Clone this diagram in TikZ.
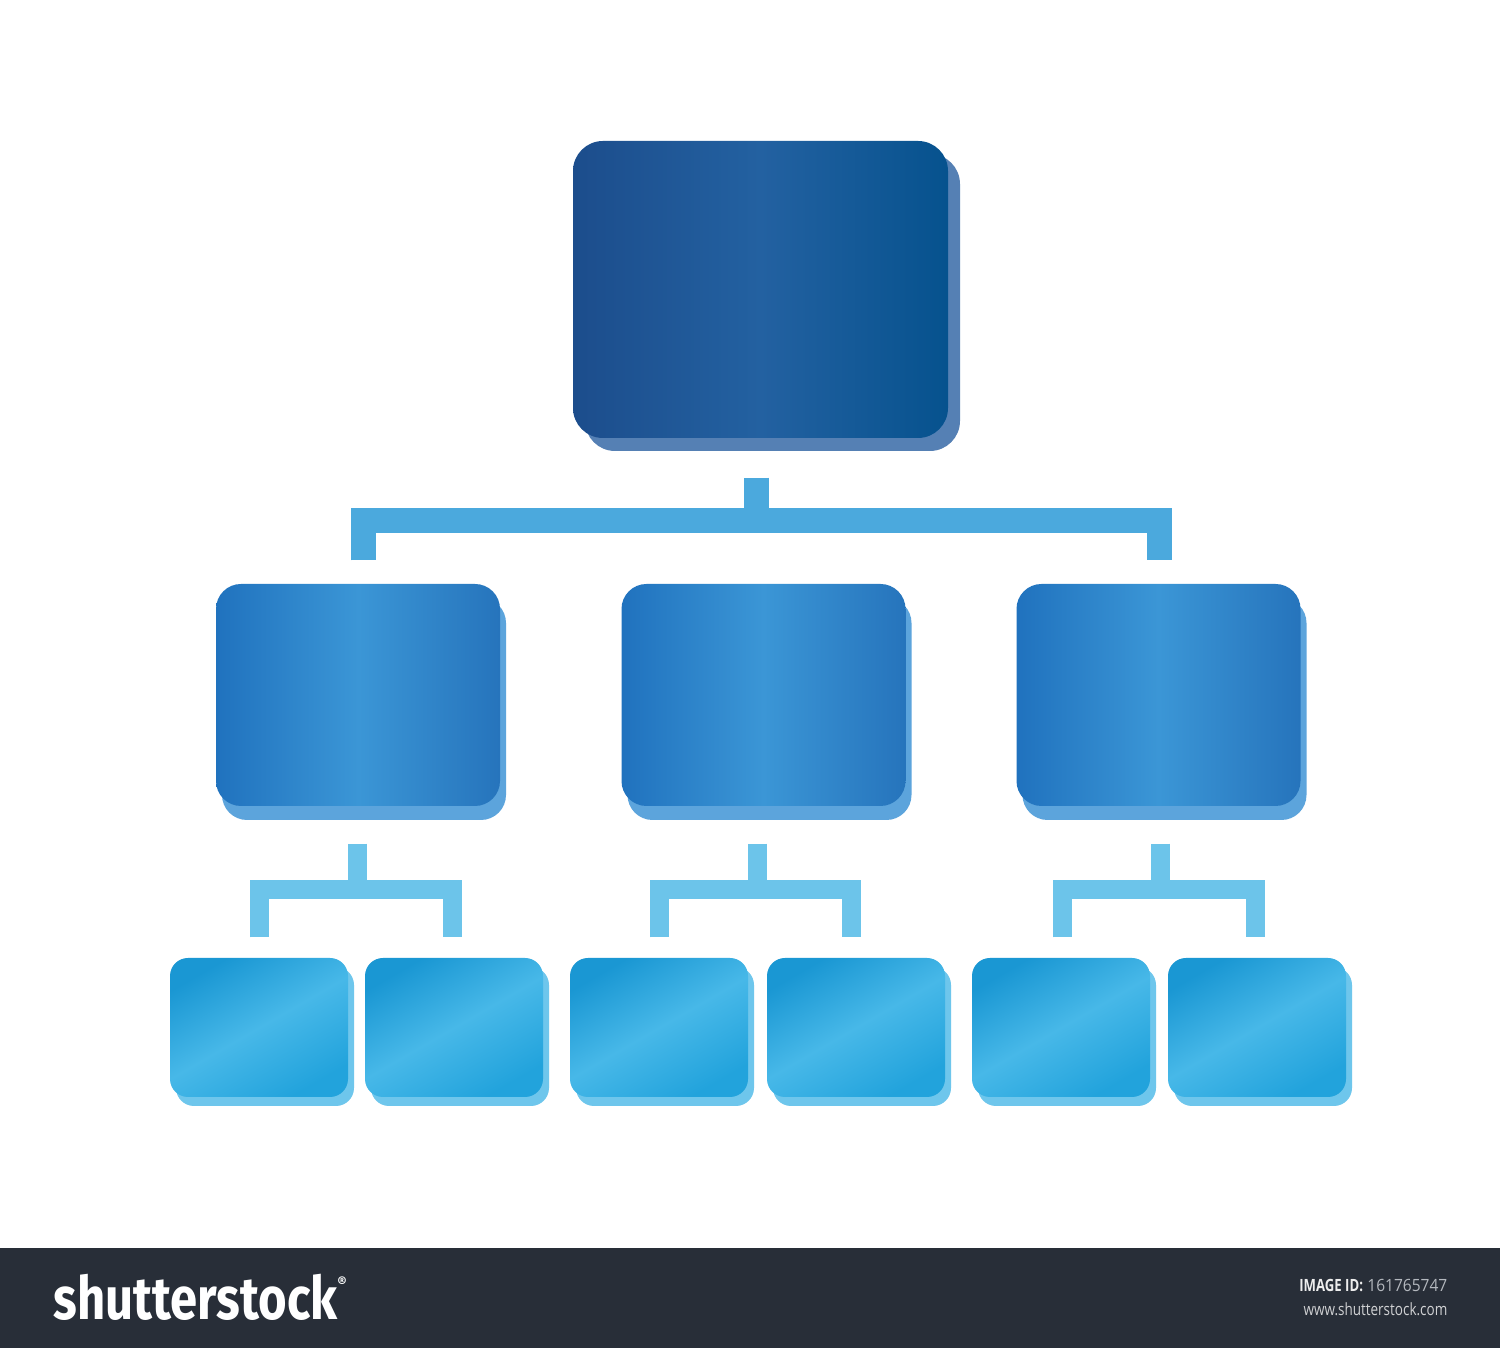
\documentclass[tikz,border=0pt]{standalone}
\usepackage{fontspec}
\usetikzlibrary{shadows}
\newfontfamily\logofont{Fira Sans}
\newfontfamily\infofont{Open Sans}

\definecolor{topL}{HTML}{1C4D8C}
\definecolor{topM}{HTML}{2361A1}
\definecolor{topR}{HTML}{06528E}
\definecolor{topS}{HTML}{5580B4}
\definecolor{midL}{HTML}{2072BE}
\definecolor{midM}{HTML}{3B96D6}
\definecolor{midR}{HTML}{2674BC}
\definecolor{midS}{HTML}{5CA4DC}
\definecolor{lowL}{HTML}{1A97D3}
\definecolor{lowM}{HTML}{47B8E8}
\definecolor{lowR}{HTML}{22A3DC}
\definecolor{lowS}{HTML}{6EC6EC}
\definecolor{connA}{HTML}{4BA9DD}
\definecolor{connB}{HTML}{6CC4EA}
\definecolor{footbg}{HTML}{282E38}

\begin{document}
\begin{tikzpicture}[
  topbox/.style={rectangle, inner sep=0pt, rounded corners=0.3cm,
    minimum width=3.75cm, minimum height=2.97cm,
    left color=topL, right color=topR, middle color=topM,
    general shadow={fill=topS, shadow xshift=0.12cm, shadow yshift=-0.13cm}},
  midbox/.style={rectangle, inner sep=0pt, rounded corners=0.25cm,
    minimum width=2.84cm, minimum height=2.22cm,
    left color=midL, right color=midR, middle color=midM,
    general shadow={fill=midS, shadow xshift=0.06cm, shadow yshift=-0.14cm}},
  lowbox/.style={rectangle, inner sep=0pt, rounded corners=0.18cm,
    minimum width=1.78cm, minimum height=1.39cm,
    left color=lowL, right color=lowR, middle color=lowM, shading angle=30,
    general shadow={fill=lowS, shadow xshift=0.06cm, shadow yshift=-0.09cm}},
  trunk/.style={draw=connA, line width=0.25cm, line join=miter},
  twig/.style={draw=connB, line width=0.19cm, line join=miter}
]
\useasboundingbox (0,0) rectangle (15,13.48);
\fill[white] (0,0) rectangle (15,13.48);

% boxes
\node [topbox] (t) at (7.605,10.585) {};
\node [midbox] (l) at (3.58,6.53) {};
\node [midbox] (c) at (7.635,6.53) {};
\node [midbox] (r) at (11.585,6.53) {};
\node [lowbox] (la) at (2.59,3.205) {};
\node [lowbox] (lb) at (4.54,3.205) {};
\node [lowbox] (ca) at (6.59,3.205) {};
\node [lowbox] (cb) at (8.56,3.205) {};
\node [lowbox] (ra) at (10.61,3.205) {};
\node [lowbox] (rb) at (12.57,3.205) {};

% connectors
\coordinate (tj) at ([xshift=-0.04cm,yshift=-0.815cm]t.south);
\draw [trunk] ([xshift=-0.04cm,yshift=-0.39cm]t.south) -- (tj);
\draw [trunk] ([xshift=0.055cm,yshift=0.23cm]l.north) |- (tj) -| ([xshift=0.01cm,yshift=0.23cm]r.north);
\coordinate (lj) at ([xshift=-0.01cm,yshift=-0.83cm]l.south);
\draw [twig] ([xshift=-0.01cm,yshift=-0.37cm]l.south) -- (lj);
\draw [twig] ([yshift=0.2cm]la.north) |- (lj) -| ([xshift=-0.015cm,yshift=0.2cm]lb.north);
\coordinate (cj) at ([xshift=-0.065cm,yshift=-0.83cm]c.south);
\draw [twig] ([xshift=-0.065cm,yshift=-0.37cm]c.south) -- (cj);
\draw [twig] ([yshift=0.2cm]ca.north) |- (cj) -| ([xshift=-0.05cm,yshift=0.2cm]cb.north);
\coordinate (rj) at ([xshift=0.015cm,yshift=-0.83cm]r.south);
\draw [twig] ([xshift=0.015cm,yshift=-0.37cm]r.south) -- (rj);
\draw [twig] ([xshift=0.015cm,yshift=0.2cm]ra.north) |- (rj) -| ([xshift=-0.02cm,yshift=0.2cm]rb.north);

% footer
\fill [footbg] (0,0) rectangle (15,1.0);
\node [anchor=base west, inner sep=0pt, text=white, font=\logofont\bfseries\fontsize{17}{18}\selectfont]
  (logo) at (0.53,0.28) {\scalebox{0.82}[1]{shutterstock}\raisebox{0.55em}{\fontsize{4}{4}\selectfont®}};
\node [anchor=base east, inner sep=0pt, font=\infofont\fontsize{4.8}{6}\selectfont]
  (id) at (14.48,0.56) {\textcolor[HTML]{EDEDED}{\scalebox{0.78}[1]{\bfseries IMAGE ID:}} \textcolor[HTML]{B4B8BE}{\scalebox{0.92}[1]{161765747}}};
\node [anchor=base east, inner sep=0pt, text=white!78!footbg, font=\infofont\fontsize{4.8}{6}\selectfont]
  (url) at (14.48,0.32) {\scalebox{0.8}[1]{www.shutterstock.com}};
\end{tikzpicture}
\end{document}
